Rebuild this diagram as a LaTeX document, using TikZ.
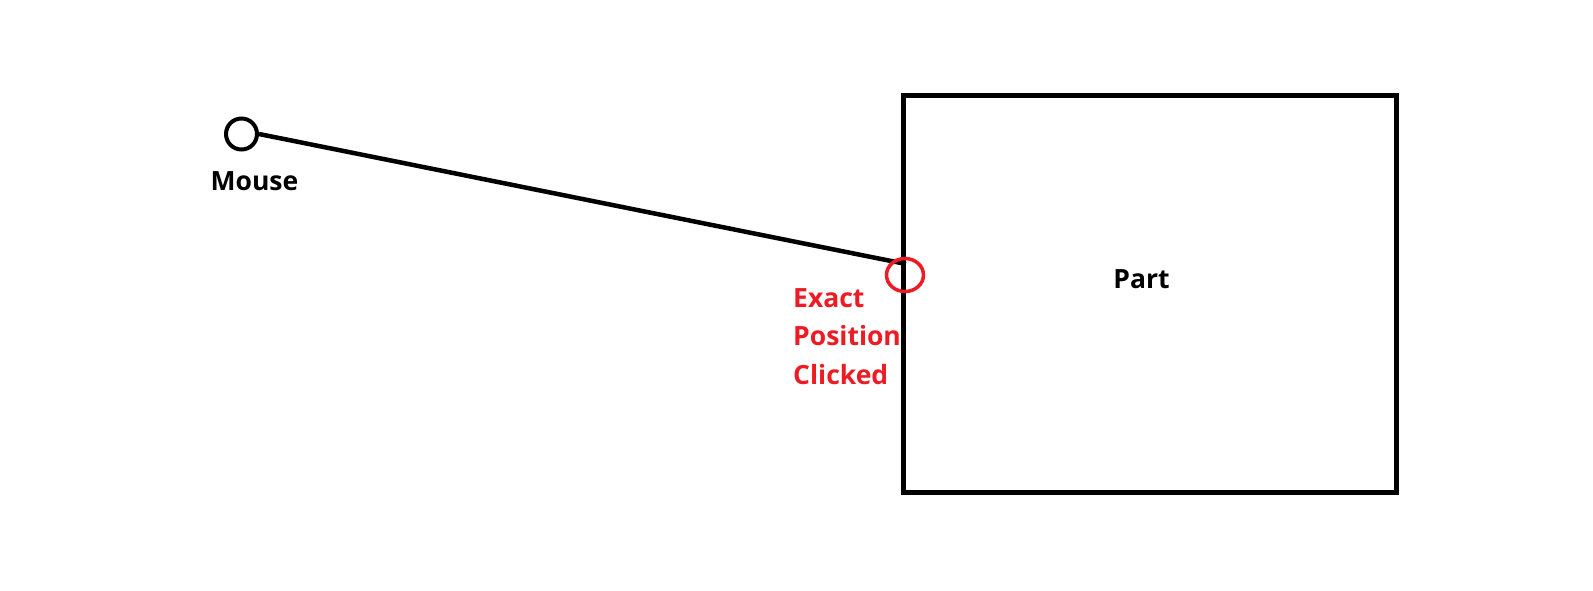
\documentclass[tikz,border=0pt]{standalone}
\usepackage{fontspec}
\setmainfont{Open Sans}
\usetikzlibrary{shapes.geometric}
\definecolor{paintred}{HTML}{ED1C24}
\begin{document}
\begin{tikzpicture}[x=1pt,y=-1pt,
  lbl/.style={font=\bfseries\fontsize{26.5}{38.5}\selectfont, inner sep=0pt}]
\useasboundingbox[fill=white] (0,0) rectangle (1593,590);
\node[draw, line width=4pt, circle, minimum size=31pt, inner sep=0pt] (mouse) at (241.5,134) {};
\node[lbl, anchor=base] (mlabel) at (254.5,190) {Mouse};
\node[draw, line width=5pt, minimum width=493pt, minimum height=397pt, inner sep=0pt] (part) at (1150,293.7) {};
\node[lbl] (plabel) at (1141.5,279) {Part};
\coordinate (click) at (906,264);
\draw[line width=4.5pt] (mouse.east) -- (click);
\node[draw=paintred, line width=3.5pt, ellipse, minimum width=37pt, minimum height=33pt, inner sep=0pt] (clickmark) at (905,275) {};
\node[lbl, text=paintred, align=left, anchor=north west] (clabel) at (793,288) {Exact\\Position\\Clicked};
\end{tikzpicture}
\end{document}
